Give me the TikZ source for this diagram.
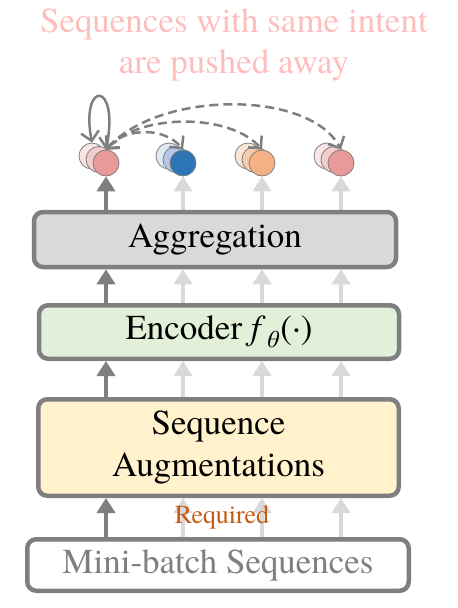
\documentclass[tikz,border=0pt]{standalone}
\usepackage{fontspec}
\setmainfont{texgyretermes}[Extension=.otf, UprightFont=*-regular, ItalicFont=*-italic, BoldFont=*-bold, BoldItalicFont=*-bolditalic]
\usetikzlibrary{arrows.meta, positioning, backgrounds}
\definecolor{framegray}{RGB}{127,127,127}
\definecolor{lightflow}{RGB}{217,217,217}
\definecolor{aggfill}{RGB}{217,217,217}
\definecolor{encfill}{RGB}{226,240,217}
\definecolor{augfill}{RGB}{255,242,204}
\definecolor{titlepink}{RGB}{255,190,190}
\definecolor{reqcolor}{RGB}{197,90,17}
\definecolor{pinkfront}{RGB}{234,153,153}
\definecolor{pinkmid}{RGB}{244,204,204}
\definecolor{pinkback}{RGB}{250,228,228}
\definecolor{bluefront}{RGB}{46,117,182}
\definecolor{bluemid}{RGB}{180,199,231}
\definecolor{blueback}{RGB}{222,235,247}
\definecolor{orangefront}{RGB}{244,177,131}
\definecolor{orangemid}{RGB}{248,203,173}
\definecolor{orangeback}{RGB}{252,228,214}

\begin{document}
\begin{tikzpicture}[
    x=1pt, y=-1pt,
    layer/.style={draw=framegray, line width=4.5pt, rounded corners=9pt, inner sep=0pt, font=\fontsize{35}{42}\selectfont},
    flow/.style={line width=4pt, -{Triangle[length=15pt, width=18pt]}},
    mainflow/.style={flow, draw=framegray},
    sideflow/.style={flow, draw=lightflow},
    dot/.style={circle, draw=framegray, line width=0.8pt, minimum size=26pt, inner sep=0pt},
    push/.style={draw=framegray, line width=2.5pt, dash pattern=on 9pt off 5pt,
        {Straight Barb[length=9pt, width=18pt]}-{Straight Barb[length=9pt, width=18pt]}}
]
    \useasboundingbox (0,0) rectangle (458,608);

    % Columns
    \coordinate (c1) at (106,0);
    \coordinate (c2) at (183,0);
    \coordinate (c3) at (262,0);
    \coordinate (c4) at (341,0);

    % Title
    \node[font=\fontsize{35}{41}\selectfont, text=titlepink, align=center] (title) at (234,45)
        {Sequences with same intent\\are pushed away};

    % Layers
    \node[layer, fill=aggfill, minimum width=362pt, minimum height=55pt] (agg) at (215,239.5) {Aggregation};
    \node[layer, fill=encfill, minimum width=360pt, minimum height=53.5pt] (enc) at (219,332)
        {Encoder \textit{f}\textsubscript{\textit{θ}}(·)};
    \node[layer, fill=augfill, minimum width=360.5pt, minimum height=96.5pt, align=center] (aug) at (218.5,447.5)
        {Sequence\\Augmentations};
    \node[layer, fill=white, text=framegray, minimum width=381.5pt, minimum height=51.5pt] (batch) at (218,565)
        {Mini-batch Sequences};
    \node[font=\fontsize{26}{30}\selectfont, text=reqcolor] (req) at (222,517) {Required};

    % Sequence representations
    \node[dot, fill=pinkback] (g1c) at (92,156) {};
    \node[dot, fill=pinkmid] (g1b) at (99,159.5) {};
    \node[dot, fill=pinkfront] (g1) at (106,163) {};
    \node[dot, fill=blueback] (g2c) at (169,156) {};
    \node[dot, fill=bluemid] (g2b) at (176,159.5) {};
    \node[dot, fill=bluefront] (g2) at (183,163) {};
    \node[dot, fill=orangeback] (g3c) at (248,156) {};
    \node[dot, fill=orangemid] (g3b) at (255,159.5) {};
    \node[dot, fill=orangefront] (g3) at (262,163) {};
    \node[dot, fill=pinkback] (g4c) at (327,156) {};
    \node[dot, fill=pinkmid] (g4b) at (334,159.5) {};
    \node[dot, fill=pinkfront] (g4) at (341,163) {};

    % Flow arrows
    \begin{scope}[on background layer]
        \draw[mainflow] (batch.north -| c1) -- (aug.south -| c1);
        \draw[mainflow] (aug.north -| c1) -- (enc.south -| c1);
        \draw[mainflow] (enc.north -| c1) -- (agg.south -| c1);
        \draw[mainflow] (agg.north -| c1) -- (g1.south);
        \foreach \c/\g in {c2/g2, c3/g3, c4/g4} {
            \draw[sideflow] (batch.north -| \c) -- (aug.south -| \c);
            \draw[sideflow] (aug.north -| \c) -- (enc.south -| \c);
            \draw[sideflow] (enc.north -| \c) -- (agg.south -| \c);
            \draw[sideflow] (agg.north -| \c) -- (\g.south);
        }
    \end{scope}

    % Pushed away
    \draw[push, solid] (g1c.north) .. controls (80,80) and (120,80) .. (g1.north);
    \draw[push] (g1.north) .. controls (125,127) and (165,127) .. (g2.north);
    \draw[push] (g1.north) .. controls (140,113) and (230,113) .. (g3.north);
    \draw[push] (g1.north) .. controls (160,90) and (310,90) .. (g4.north);
\end{tikzpicture}
\end{document}
